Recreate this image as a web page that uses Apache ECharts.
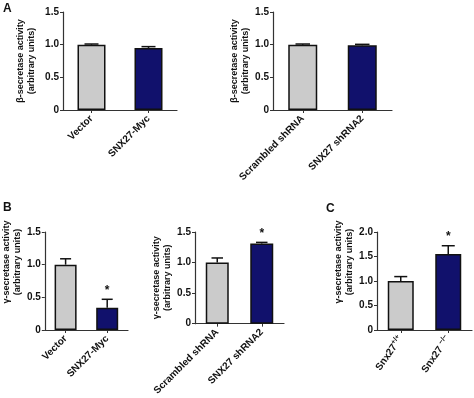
<!DOCTYPE html>
<html>
<head>
<meta charset="utf-8">
<script src="https://cdn.jsdelivr.net/npm/echarts@6/dist/echarts.min.js"></script>
<style>
  html, body { margin: 0; padding: 0; background: #fff; }
  #main { width: 474px; height: 398px; }
</style>
</head>
<body>
<div id="main"></div>
<script>
// panel A: beta-secretase activity
const catsMyc = ['Vector', 'SNX27-Myc']
const catsSh = ['Scrambled shRNA', 'SNX27 shRNA2']
const catsKo = ['Snx27{sup|+/+}', 'Snx27 {sup|−/−}']

const betaMyc = [1.0, 0.95]
const betaMycErr = [0.01, 0.02]
const betaSh = [1.0, 0.99]
const betaShErr = [0.01, 0.015]

// panel B: gamma-secretase activity
const gammaMyc = [1.0, 0.34]
const gammaMycErr = [0.09, 0.13]
const gammaMycSig = [false, true]
const gammaSh = [1.0, 1.31]
const gammaShErr = [0.075, 0.02]
const gammaShSig = [false, true]

// panel C: knockout
const gammaKo = [1.0, 1.55]
const gammaKoErr = [0.09, 0.17]
const gammaKoSig = [false, true]

const ticksAB = [0, 0.5, 1.0, 1.5]
const ticksC = [0, 0.5, 1.0, 1.5, 2.0]

const FONT = 'Arial, "Liberation Sans", sans-serif'
const barColors = ['#cbcbcb', '#11116c']
const betaTitle = 'β-secretase activity\n(arbitrary units)'
const gammaTitle = 'γ-secretase activity\n(arbitrary units)'

const panels = [
  { cats: catsMyc, vals: betaMyc, err: betaMycErr, sig: [false, false], ticks: ticksAB, title: betaTitle,
    grid: { left: 63, top: 12, width: 114, height: 98 }, barWidth: 28, nameGap: 26, shift: 0, rotate: 45 },
  { cats: catsSh, vals: betaSh, err: betaShErr, sig: [false, false], ticks: ticksAB, title: betaTitle,
    grid: { left: 273, top: 12, width: 119, height: 98 }, barWidth: 29, nameGap: 20, shift: 0, rotate: 45 },
  { cats: catsMyc, vals: gammaMyc, err: gammaMycErr, sig: gammaMycSig, ticks: ticksAB, title: gammaTitle,
    grid: { left: 42, top: 232, width: 86, height: 98 }, barWidth: 22, nameGap: 14, shift: 38, rotate: 45 },
  { cats: catsSh, vals: gammaSh, err: gammaShErr, sig: gammaShSig, ticks: ticksAB, title: gammaTitle,
    grid: { left: 195, top: 232, width: 89, height: 98 }, barWidth: 23, nameGap: 20, shift: 0, rotate: 45 },
  { cats: catsKo, vals: gammaKo, err: gammaKoErr, sig: gammaKoSig, ticks: ticksC, title: gammaTitle,
    grid: { left: 377, top: 232, width: 95, height: 98 }, barWidth: 26, nameGap: 20, shift: 38, rotate: 55 }
]

const chart = echarts.init(document.getElementById('main'), null, { renderer: 'canvas' })

const grid = [], xAxis = [], yAxis = [], series = []

panels.forEach((p, i) => {
  grid.push(Object.assign({ containLabel: false }, p.grid))
  xAxis.push({
    type: 'category',
    gridIndex: i,
    data: p.cats,
    axisLine: { lineStyle: { color: '#333', width: 1.2 } },
    axisTick: { show: true, alignWithLabel: true, length: 3, lineStyle: { color: '#333' } },
    axisLabel: {
      rotate: p.rotate,
      margin: 7,
      interval: 0,
      color: '#111',
      fontFamily: FONT,
      fontWeight: 'bold',
      fontSize: 10,
      rich: {
        sup: { fontSize: 7, fontWeight: 'bold', fontFamily: FONT, color: '#111', verticalAlign: 'top', padding: [0, 0, 6, 0] }
      }
    }
  })
  const max = p.ticks[p.ticks.length - 1]
  yAxis.push({
    type: 'value',
    gridIndex: i,
    min: 0,
    max: max,
    interval: 0.5,
    name: p.title,
    nameLocation: 'middle',
    nameRotate: 90,
    nameGap: p.nameGap,
    nameTextStyle: {
      fontFamily: FONT, fontWeight: 'bold', fontSize: 9, color: '#111', lineHeight: 11,
      align: 'center', verticalAlign: 'bottom',
      padding: [0, 0, 0, p.shift]
    },
    axisLine: { show: true, lineStyle: { color: '#333', width: 1.2 } },
    axisTick: { show: true, length: 3, lineStyle: { color: '#333' } },
    splitLine: { show: false },
    axisLabel: {
      margin: 4,
      color: '#111',
      fontFamily: FONT,
      fontWeight: 'bold',
      fontSize: 10,
      formatter: v => (v === 0 ? '0' : v.toFixed(1))
    }
  })
  series.push({
    type: 'bar',
    xAxisIndex: i,
    yAxisIndex: i,
    barWidth: p.barWidth,
    data: p.vals.map((v, k) => ({ value: v, itemStyle: { color: barColors[k] } })),
    itemStyle: { borderColor: '#111', borderWidth: 1.5 },
    silent: true,
    animation: false
  })
  const cap = p.barWidth * 0.25
  series.push({
    type: 'custom',
    xAxisIndex: i,
    yAxisIndex: i,
    data: p.vals.map((v, k) => [k, v, p.err[k], p.sig[k] ? 1 : 0]),
    renderItem: (params, api) => {
      const x = api.value(0)
      const top = api.coord([x, api.value(1) + api.value(2)])
      const base = api.coord([x, api.value(1)])
      const children = [
        { type: 'line', shape: { x1: base[0], y1: base[1], x2: top[0], y2: top[1] }, style: { stroke: '#111', lineWidth: 1.5 } },
        { type: 'line', shape: { x1: top[0] - cap, y1: top[1], x2: top[0] + cap, y2: top[1] }, style: { stroke: '#111', lineWidth: 1.5 } }
      ]
      if (api.value(3)) {
        children.push({
          type: 'text',
          style: { text: '*', x: top[0], y: top[1] - 3, align: 'center', verticalAlign: 'bottom', fontSize: 12, fontWeight: 'bold', fontFamily: FONT, fill: '#111' }
        })
      }
      return { type: 'group', children }
    },
    z: 5,
    silent: true,
    animation: false
  })
})

const letter = (t, x, y) => ({
  type: 'text', left: x, top: y,
  style: { text: t, fontSize: 12, fontWeight: 'bold', fontFamily: FONT, fill: '#111' }
})

chart.setOption({
  animation: false,
  grid, xAxis, yAxis, series,
  graphic: [letter('A', 3, 3), letter('B', 3, 202), letter('C', 326, 203)]
})
</script>
</body>
</html>
